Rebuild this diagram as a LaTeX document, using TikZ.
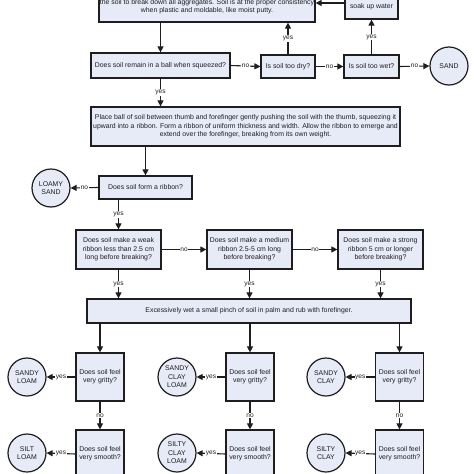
\documentclass[tikz,border=0pt]{standalone}
\usepackage{fontspec}
\setmainfont{Liberation Sans}
\usetikzlibrary{arrows.meta}
\definecolor{boxfill}{RGB}{231,235,248}
\definecolor{ink}{RGB}{30,30,30}
\begin{document}
\begin{tikzpicture}[x=1pt,y=-1pt,
  every node/.style={font=\fontsize{6.9}{8.4}\selectfont, text=ink},
  box/.style={draw=ink, fill=boxfill, line width=1.2pt, inner sep=0pt, align=center},
  term/.style={draw=ink, fill=boxfill, line width=1.2pt, circle, inner sep=0pt, minimum size=38pt, align=center},
  arr/.style={draw=ink, line width=1.1pt, -{Triangle[length=6pt,width=6pt]}},
  lab/.style={fill=white, inner sep=0.6pt, font=\fontsize{6.6}{7.5}\selectfont}]
\useasboundingbox (0,0) rectangle (474,474);
\clip (0,0) rectangle (474,474);
\fill[white] (0,0) rectangle (474,474);
% top row
\node[box, minimum width=216pt, minimum height=38pt] (top) at (207,3) {};
\node (toptext) at (207,7) [align=center] {the soil to break down all aggregates. Soil is at the proper consistency\\when plastic and moldable, like moist putty.};
\node[box, minimum width=53pt, minimum height=32pt] (soak) at (371.5,3) {};
\node (soaktext) at (371.5,7) {soak up water};
\node[box, minimum width=139pt, minimum height=25pt] (ball) at (160.5,65.5) {Does soil remain in a ball when squeezed?};
\node[box, minimum width=54pt, minimum height=23pt] (dry) at (288,66.5) {Is soil too dry?};
\node[box, minimum width=55pt, minimum height=23pt] (wet) at (371.5,66.5) {Is soil too wet?};
\node[term] (sand) at (449,66) {SAND};
\node[box, minimum width=309pt, minimum height=39pt] (place) at (245.5,126.5) {Place ball of soil between thumb and forefinger gently pushing the soil with the thumb, squeezing it\\upward into a ribbon. Form a ribbon of uniform thickness and width. Allow the ribbon to emerge and\\extend over the forefinger, breaking from its own weight.};
\node[box, minimum width=93pt, minimum height=23pt] (ribbon) at (145.5,187.5) {Does soil form a ribbon?};
\node[term] (loamy) at (51,188) {LOAMY\\SAND};
\node[box, minimum width=85pt, minimum height=39pt] (weak) at (118.5,249.5) {Does soil make a weak\\ribbon less than 2.5 cm\\long before breaking?};
\node[box, minimum width=85pt, minimum height=39pt] (medium) at (249.5,249.5) {Does soil make a medium\\ribbon 2.5-5 cm long\\before breaking?};
\node[box, minimum width=85pt, minimum height=39pt] (strong) at (380.5,249.5) {Does soil make a strong\\ribbon 5 cm or longer\\before breaking?};
\node[box, minimum width=324pt, minimum height=24pt] (excess) at (249,311) {Excessively wet a small pinch of soil in palm and rub with forefinger.};
\node[box, minimum width=48pt, minimum height=48pt] (g1) at (100,377) {Does soil feel\\very gritty?};
\node[box, minimum width=48pt, minimum height=48pt] (g2) at (250,377) {Does soil feel\\very gritty?};
\node[box, minimum width=48pt, minimum height=48pt] (g3) at (399.5,377) {Does soil feel\\very gritty?};
\node[box, minimum width=48pt, minimum height=48pt] (s1) at (100,454) {Does soil feel\\very smooth?};
\node[box, minimum width=48pt, minimum height=48pt] (s2) at (250,454) {Does soil feel\\very smooth?};
\node[box, minimum width=48pt, minimum height=48pt] (s3) at (399.5,454) {Does soil feel\\very smooth?};
\node[term] (c1) at (27,377) {SANDY\\LOAM};
\node[term] (c2) at (177,377) {SANDY\\CLAY\\LOAM};
\node[term] (c3) at (326,377) {SANDY\\CLAY};
\node[term] (d1) at (27,453) {SILT\\LOAM};
\node[term] (d2) at (177,453) {SILTY\\CLAY\\LOAM};
\node[term] (d3) at (326,453) {SILTY\\CLAY};
% connectors
\draw[arr] (ball.north |- top.south) -- (ball.north);
\draw[arr] (ball.east) -- node[lab]{no} (dry.west);
\draw[arr] (dry.east) -- node[lab]{no} (wet.west);
\draw[arr] (wet.east) -- node[lab]{no} (sand.west);
\draw[arr] (dry.north) -- node[lab]{yes} (dry.north |- top.south);
\draw[arr] (wet.north) -- node[lab]{yes} (wet.north |- soak.south);
\draw[arr] (soak.west) -- (top.east);
\draw[arr] (ball.south) -- node[lab]{yes} (ball.south |- place.north);
\draw[arr] (ribbon.north |- place.south) -- (ribbon.north);
\draw[arr] (ribbon.west) -- node[lab]{no} (loamy.east);
\draw[arr] (weak.north |- ribbon.south) -- node[lab]{yes} (weak.north);
\draw[arr] (weak.east) -- node[lab]{no} (medium.west);
\draw[arr] (medium.east) -- node[lab]{no} (strong.west);
\foreach \b in {weak,medium,strong}{
  \draw[arr] (\b.south) -- node[lab]{yes} (\b.south |- excess.north);
}
\foreach \g/\s/\c/\d in {g1/s1/c1/d1,g2/s2/c2/d2,g3/s3/c3/d3}{
  \draw[arr] (\g.north |- excess.south) -- (\g.north);
  \draw[arr] (\g.west) -- node[lab]{yes} (\c.east);
  \draw[arr] (\g.south) -- node[lab]{no} (\s.north);
  \draw[arr] (\s.west) -- node[lab]{yes} (\d.east);
}
\end{tikzpicture}
\end{document}
